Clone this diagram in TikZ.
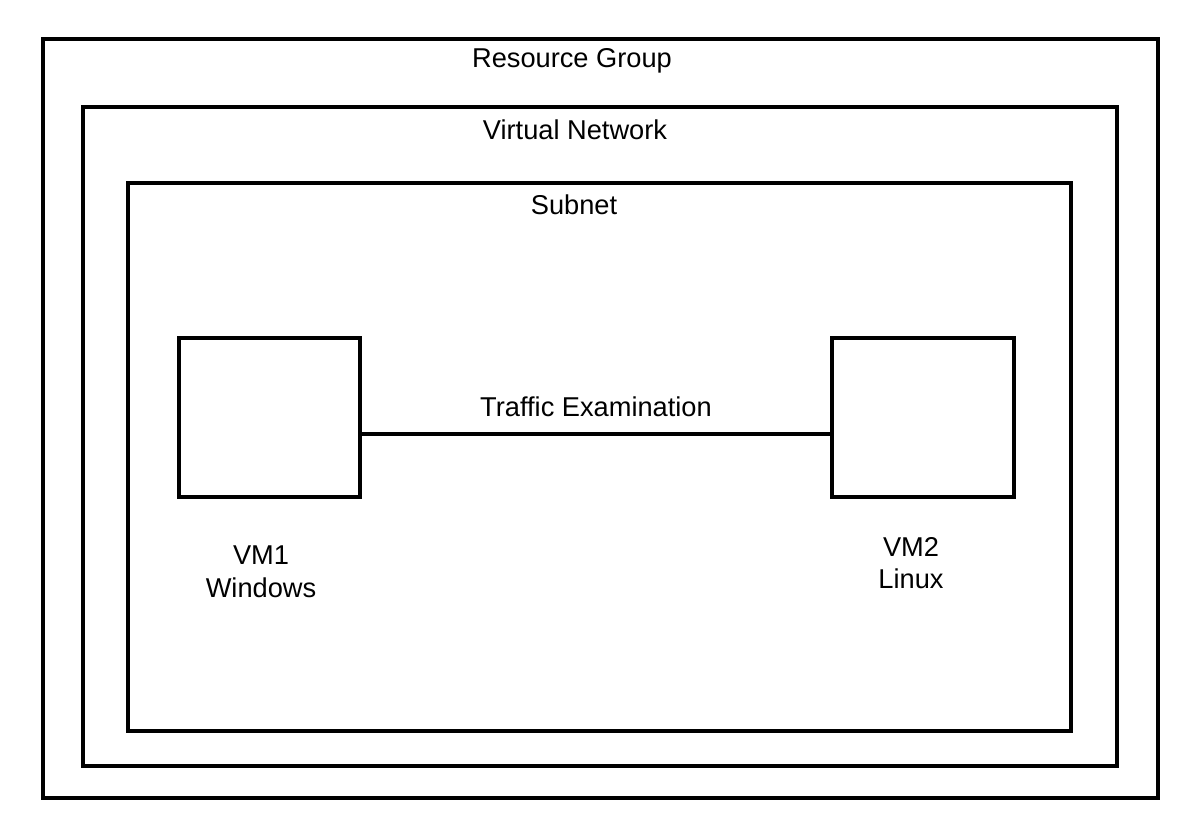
\documentclass[tikz,border=0pt]{standalone}
\usepackage{fontspec}
\setmainfont{Liberation Sans}
\usetikzlibrary{positioning}

\begin{document}
\begin{tikzpicture}[
	x=0.02cm, y=-0.02cm,
	% Rahmen
	frame/.style={draw=black, line width=2.4pt},
	lbl/.style={font=\fontsize{15.5}{18.5}\selectfont, align=center}
	]
	\useasboundingbox (0,0) rectangle (1200,838);

	% --- Rahmen ---
	\draw[frame] (43,39) rectangle (1158,798);
	\draw[frame] (83,107) rectangle (1117,766);
	\draw[frame] (128,183) rectangle (1071,731);
	\node[lbl] (rg) at (572,61) {Resource Group};
	\node[lbl] (vnet) at (575,130) {Virtual Network};
	\node[lbl] (subnet) at (574,205) {Subnet};

	% --- VMs ---
	\node[frame, minimum width=3.62cm, minimum height=3.18cm, inner sep=0pt] (vm1) at (269.5,417.5) {};
	\node[frame, minimum width=3.64cm, minimum height=3.18cm, inner sep=0pt] (vm2) at (923,417.5) {};
	\node[lbl] (vm1lbl) at (261,572) {VM1\\Windows};
	\node[lbl] (vm2lbl) at (911,563) {VM2\\Linux};

	% --- Verbindung ---
	\draw[line width=2.4pt] ([yshift=-0.33cm]vm1.east) -- node[lbl, above=5pt] {Traffic Examination} ([yshift=-0.33cm]vm2.west);
\end{tikzpicture}
\end{document}
